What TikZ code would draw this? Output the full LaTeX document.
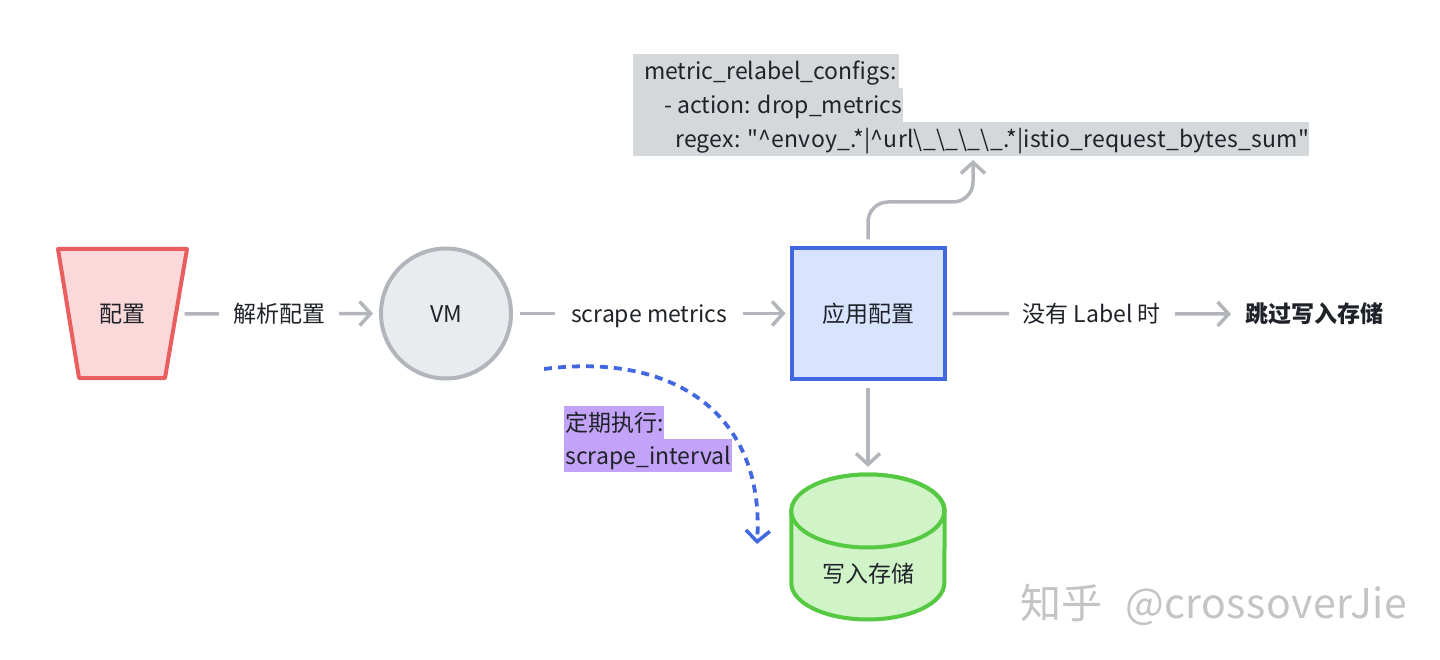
\documentclass[tikz,border=0pt]{standalone}
\usepackage{fontspec}
\setmainfont{Noto Sans CJK SC}
\newfontfamily\rawfont[LetterSpace=0.95]{Noto Sans CJK SC}
\usetikzlibrary{arrows.meta}
\definecolor{ink}{HTML}{1F2329}
\definecolor{linegray}{HTML}{B2B5BB}
\definecolor{vmfill}{HTML}{E9EBEE}
\definecolor{redline}{HTML}{E95F5F}
\definecolor{redfill}{HTML}{FBD9DB}
\definecolor{blueline}{HTML}{4168E0}
\definecolor{bluefill}{HTML}{D8E3FD}
\definecolor{greenline}{HTML}{55C941}
\definecolor{greenfill}{HTML}{D1F3C8}
\definecolor{codebg}{HTML}{D5D8DB}
\definecolor{purplebg}{HTML}{C3A3F7}
\definecolor{markgray}{HTML}{C4C4C4}
\tikzset{
  every node/.style={text=ink,font=\fontsize{23}{28}\selectfont,text height=22pt,text depth=4pt},
  conn/.style={draw=linegray,line width=3.5pt,-{Straight Barb[length=11pt,width=24pt,line width=3.5pt]}},
  dashconn/.style={draw=blueline,line width=3.8pt,dash pattern=on 8pt off 6pt,-{Straight Barb[length=11pt,width=24pt,line width=3.5pt,sep=0pt]}},
  gaplabel/.style={fill=white,inner xsep=0pt,inner ysep=0pt,minimum height=30pt},
  codeline/.style={fill=codebg,anchor=west,inner sep=0pt,minimum height=34pt},
  hlline/.style={fill=purplebg,anchor=west,inner sep=0pt,minimum height=33pt},
  cfgshape/.style={draw=redline,fill=redfill,line width=4pt,line join=round},
  vmbox/.style={circle,minimum size=130pt,inner sep=0pt,draw=linegray,fill=vmfill,line width=4pt},
  appbox/.style={rectangle,minimum width=153pt,minimum height=130pt,inner sep=0pt,draw=blueline,fill=bluefill,line width=4pt},
  storeshape/.style={draw=greenline,fill=greenfill,line width=4pt}
}
\begin{document}
\begin{tikzpicture}[x=1pt,y=-1pt]
\useasboundingbox (0,0) rectangle (1440,660);

% trapezoid with its label node
\path[cfgshape] (58,249) -- (187,249) -- (165,378) -- (79,378) -- cycle;
\node[minimum width=110pt,minimum height=129pt,inner sep=0pt] (cfg) at (122.5,314) {配置};

% nodes
\node[vmbox] (vm) at (446,313.5) {VM};
\node[appbox] (app) at (868,313.5) {应用配置};
\node[anchor=west,inner sep=0pt,font=\fontsize{23}{28}\selectfont\bfseries] (skip) at (1245,314) {跳过写入存储};

% storage cylinder
\node[minimum width=153pt,minimum height=146pt,inner sep=0pt] (store) at (868,547) {};
\path[storeshape] (store.west |- 0,511) -- (store.west |- 0,583)
  arc[start angle=180,end angle=360,x radius=76.5pt,y radius=36.5pt]
  -- (store.east |- 0,511)
  arc[start angle=0,end angle=180,x radius=76.5pt,y radius=36.5pt] -- cycle;
\path[storeshape] (store.west |- 0,511)
  arc[start angle=180,end angle=540,x radius=76.5pt,y radius=36.5pt];
\node (storelabel) at (868,573) {写入存储};

% code block
\node[codeline] (l1) at (633,71) {\makebox[266pt][l]{\hspace*{11pt}metric\_relabel\_configs:}};
\node[codeline] (l2) at (633,105) {\makebox[270pt][l]{\hspace*{31pt}- action: drop\_metrics}};
\node[codeline] (l3) at (633,139) {\makebox[676pt][l]{\rawfont\hspace*{42pt}regex: "\textasciicircum envoy\_.*|\textasciicircum url\textbackslash\_\textbackslash\_\textbackslash\_\textbackslash\_.*|istio\_request\_bytes\_sum"}};

% highlighted note
\node[hlline,minimum width=100pt] (h1) at (564,422) {定期执行:};
\node[hlline,minimum width=168pt] (h2) at (564,455) {scrape\_interval};

% connectors
\draw[conn,shorten <=7pt,shorten >=6pt] (cfg.east) -- (vm.west)
  node[gaplabel,pos=0.5,xshift=1pt,minimum width=120pt] (lab1) {解析配置};
\draw[conn,shorten <=7pt,shorten >=4pt] (vm.east) -- (app.west)
  node[gaplabel,pos=0.5,xshift=-2pt,minimum width=188pt] (lab2) {scrape metrics};
\draw[conn,shorten <=6pt,shorten >=14pt] (app.east) -- (skip.west)
  node[gaplabel,midway,xshift=-4pt,minimum width=166pt] (lab3) {没有 Label 时};
\draw[conn,shorten <=7pt,shorten >=7pt] (app.south) -- (store.north);
\coordinate (upbend) at (973,202);
\coordinate (uptip) at (973,155);
\draw[conn,rounded corners=20pt,shorten <=7pt,shorten >=5pt] (app.north) |- (upbend) -- (uptip);
\coordinate (dashstart) at (544,369);
\coordinate (dashend) at (757,544);
\draw[dashconn] (dashstart) .. controls (675,352) and (765,415) .. (dashend);

% watermark
\node[anchor=west,inner sep=0pt,text=markgray,text height=32pt,text depth=8pt,font=\fontsize{41}{48}\selectfont] (mark) at (1020,606) {知乎\hspace{23pt}{\addfontfeature{LetterSpace=1.1}@crossoverJie}};
\end{tikzpicture}
\end{document}
